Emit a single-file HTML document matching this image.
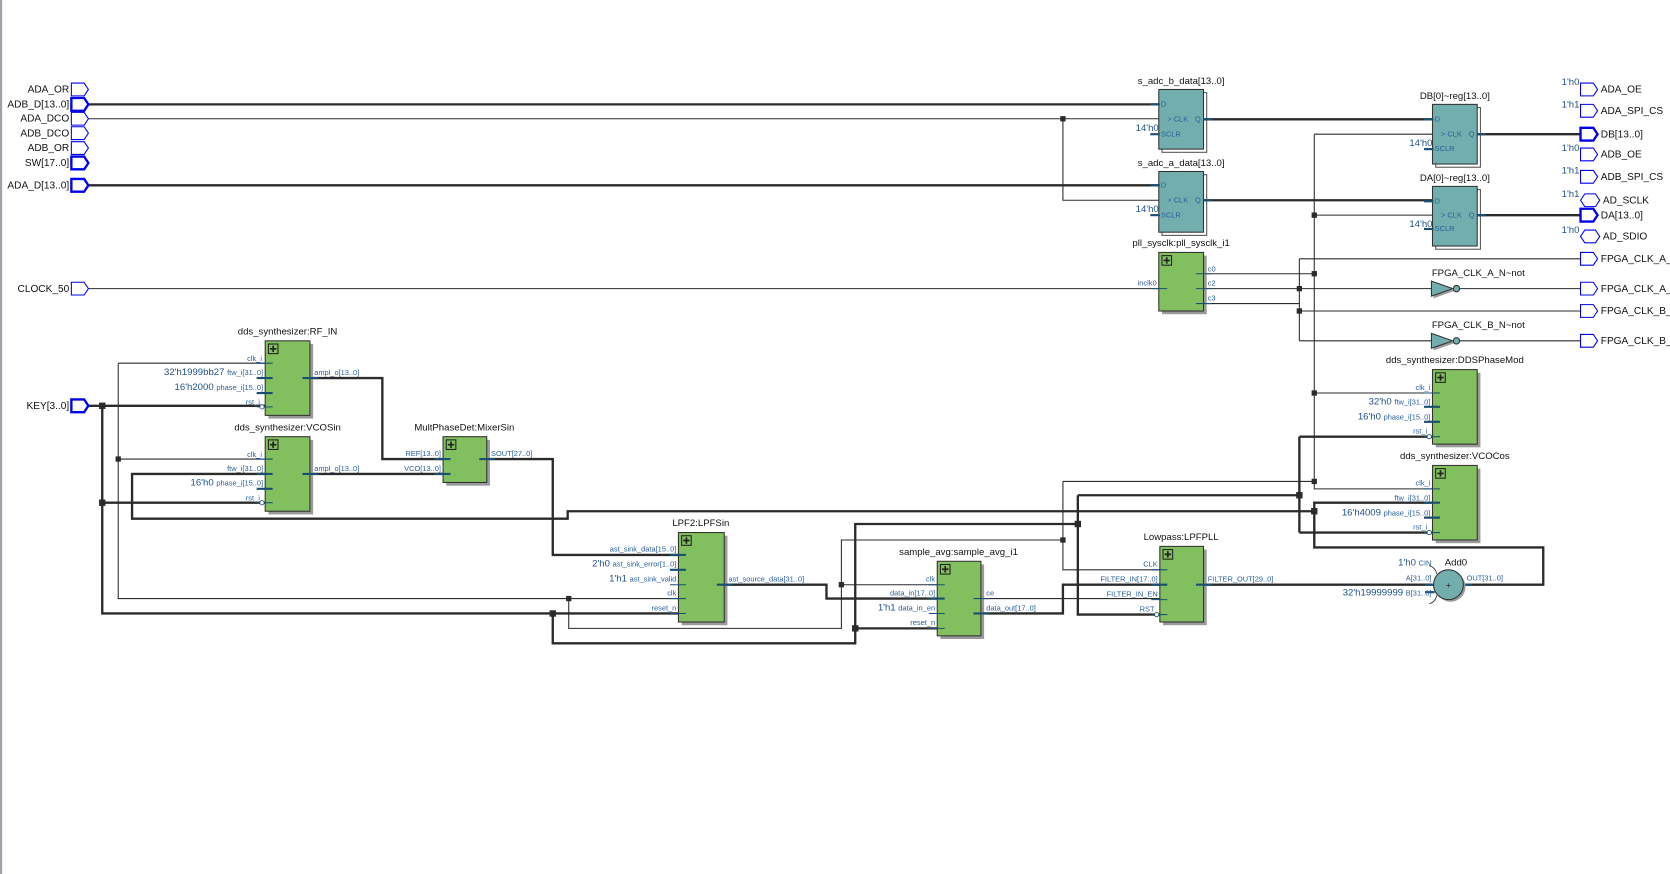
<!DOCTYPE html>
<html><head><meta charset="utf-8"><style>
html,body{margin:0;padding:0;background:#fff;}
svg{display:block;}
text{font-family:"Liberation Sans",sans-serif;}
.il{font-size:9px;fill:#111;text-anchor:middle;}
.pl{font-size:7px;fill:#2a5f9e;}
.cn{font-size:9px;fill:#1f4f8a;}
.po{font-size:9.5px;fill:#111;}
.th{stroke:#2b2b2b;stroke-width:2.2;fill:none;}
.tn{stroke:#2b2b2b;stroke-width:1;fill:none;}
.stub{stroke:#1b4f72;stroke-width:2;}
.stubt{stroke:#1b4f72;stroke-width:1;}
.prt{fill:#fff;stroke:#0000ee;stroke-width:1;}
.prtb{fill:#fff;stroke:#0000ee;stroke-width:2.2;}
.g{fill:#82bf5e;stroke:#333;stroke-width:1;}
.t{fill:#72aead;stroke:#333;stroke-width:1;}
.sh{fill:#9a9a9a;}
.j{fill:#2b2b2b;}
</style></head><body>
<svg width="1670" height="874" viewBox="0 0 1568 820.6" xmlns="http://www.w3.org/2000/svg">
<rect x="0" y="0" width="1568" height="821" fill="#fff"/>
<line x1="1" y1="0" x2="1" y2="821" stroke="#a0a0a8" stroke-width="2"/>

<!-- ===== wires thin ===== -->
<path class="tn" d="M83 111.5 H1088 M998 111.5 V188 H1088"/>
<path class="tn" d="M83 271 H1088"/>
<path class="tn" d="M1130 257 H1234 M1130 271 H1344 M1370 271 H1484 M1130 285 H1220"/>
<path class="tn" d="M1220 243 V320 M1220 243 H1484 M1220 292 H1484 M1220 320 H1344 M1370 320 H1484"/>
<path class="tn" d="M1234 126 V459 H1345 M1234 126 H1345 M1234 202 H1345 M1234 369 H1345 M998 452 H1234"/>
<path class="tn" d="M998 452 V535 H1089"/>
<path class="tn" d="M998 507 H790 V590 H534 V562"/>
<path class="tn" d="M790 549 H880"/>
<path class="tn" d="M111 341 H249 M111 341 V562 H637 M111 431 H249"/>
<path class="tn" d="M921 562 H1089"/>

<!-- ===== wires thick ===== -->
<path class="th" d="M83 98 H1088 M83 174 H1088"/>
<path class="th" d="M1130 112 H1345 M1130 188 H1345"/>
<path class="th" d="M1387 126 H1484 M1387 202 H1484"/>
<path class="th" d="M83 381 H249 M96 381 V576 H637 M96 472 H249"/>
<path class="th" d="M291 355 H359 V431 H416"/>
<path class="th" d="M291 445 H416"/>
<path class="th" d="M457 431 H519 V521 H637"/>
<path class="th" d="M249 445 H124 V487 H533 V480 H1234"/>
<path class="th" d="M1374 549 H1449 V514 H1234 V472 H1345"/>
<path class="th" d="M519 576 V604 H803 V492 H1012 M1012 465 V577 H1089 M1012 465 H1220 M1220 410 V500 M1220 410 H1345 M1220 500 H1345 M803 590 H880"/>
<path class="th" d="M680 549 H776 V562 H880"/>
<path class="th" d="M921 576 H998 V549 H1089"/>
<path class="th" d="M1130 549 H1346"/>

<!-- junctions -->
<g class="j">
<rect x="995.5" y="109" width="5" height="5"/>
<rect x="1231.5" y="199.5" width="5" height="5"/>
<rect x="1231.5" y="254.5" width="5" height="5"/>
<rect x="1217.5" y="268.5" width="5" height="5"/>
<rect x="1217.5" y="289.5" width="5" height="5"/>
<rect x="1231.5" y="366.5" width="5" height="5"/>
<rect x="1231.5" y="449.5" width="5" height="5"/>
<rect x="1231" y="477" width="6" height="6"/>
<rect x="1217" y="462" width="6" height="6"/>
<rect x="93" y="378" width="6" height="6"/>
<rect x="93" y="469" width="6" height="6"/>
<rect x="108.5" y="428.5" width="5" height="5"/>
<rect x="516" y="573" width="6" height="6"/>
<rect x="531.5" y="559.5" width="5" height="5"/>
<rect x="787.5" y="546.5" width="5" height="5"/>
<rect x="800" y="587" width="6" height="6"/>
<rect x="1009" y="489" width="6" height="6"/>
<rect x="995.5" y="504.5" width="5" height="5"/>
</g>

<!-- ===== left ports ===== -->
<g>
<polygon class="prt" points="67,78 79,78 83,84 79,90 67,90"/>
<polygon class="prtb" points="67,92 79,92 83,98 79,104 67,104"/>
<polygon class="prt" points="67,105.5 79,105.5 83,111.5 79,117.5 67,117.5"/>
<polygon class="prt" points="67,119 79,119 83,125 79,131 67,131"/>
<polygon class="prt" points="67,133 79,133 83,139 79,145 67,145"/>
<polygon class="prtb" points="67,147 79,147 83,153 79,159 67,159"/>
<polygon class="prtb" points="67,168 79,168 83,174 79,180 67,180"/>
<polygon class="prt" points="67,265 79,265 83,271 79,277 67,277"/>
<polygon class="prtb" points="67,375 79,375 83,381 79,387 67,387"/>
</g>
<g class="po" text-anchor="end">
<text x="65" y="87">ADA_OR</text>
<text x="65" y="101">ADB_D[13..0]</text>
<text x="65" y="114">ADA_DCO</text>
<text x="65" y="128">ADB_DCO</text>
<text x="65" y="142">ADB_OR</text>
<text x="65" y="156">SW[17..0]</text>
<text x="65" y="177">ADA_D[13..0]</text>
<text x="65" y="274">CLOCK_50</text>
<text x="65" y="384">KEY[3..0]</text>
</g>

<!-- ===== right ports ===== -->
<g>
<polygon class="prt" points="1484,78 1496,78 1500,84 1496,90 1484,90"/>
<polygon class="prt" points="1484,98 1496,98 1500,104 1496,110 1484,110"/>
<polygon class="prtb" points="1484,120 1496,120 1500,126 1496,132 1484,132"/>
<polygon class="prt" points="1484,139 1496,139 1500,145 1496,151 1484,151"/>
<polygon class="prt" points="1484,160 1496,160 1500,166 1496,172 1484,172"/>
<polygon class="prt" points="1484,188 1488,182 1498,182 1502,188 1498,194 1488,194"/>
<polygon class="prtb" points="1484,196 1496,196 1500,202 1496,208 1484,208"/>
<polygon class="prt" points="1484,222 1488,216 1498,216 1502,222 1498,228 1488,228"/>
<polygon class="prt" points="1484,237 1496,237 1500,243 1496,249 1484,249"/>
<polygon class="prt" points="1484,265 1496,265 1500,271 1496,277 1484,277"/>
<polygon class="prt" points="1484,286 1496,286 1500,292 1496,298 1484,298"/>
<polygon class="prt" points="1484,314 1496,314 1500,320 1496,326 1484,326"/>
</g>
<g class="po">
<text x="1503" y="87">ADA_OE</text>
<text x="1503" y="107">ADA_SPI_CS</text>
<text x="1503" y="129">DB[13..0]</text>
<text x="1503" y="148">ADB_OE</text>
<text x="1503" y="169">ADB_SPI_CS</text>
<text x="1505" y="191">AD_SCLK</text>
<text x="1503" y="205">DA[13..0]</text>
<text x="1505" y="225">AD_SDIO</text>
<text x="1503" y="246">FPGA_CLK_A_P</text>
<text x="1503" y="274">FPGA_CLK_A_N</text>
<text x="1503" y="295">FPGA_CLK_B_P</text>
<text x="1503" y="323">FPGA_CLK_B_N</text>
</g>
<g class="cn" text-anchor="end">
<text x="1483" y="80">1'h0</text>
<text x="1483" y="101">1'h1</text>
<text x="1483" y="142">1'h0</text>
<text x="1483" y="163">1'h1</text>
<text x="1483" y="185">1'h1</text>
<text x="1483" y="219">1'h0</text>
</g>

<!-- ===== registers ===== -->
<g>
<rect x="1091" y="87" width="42" height="56" fill="none" stroke="#555"/>
<rect class="t" x="1088" y="84" width="42" height="56"/>
<rect x="1091" y="164" width="42" height="57" fill="none" stroke="#555"/>
<rect class="t" x="1088" y="161" width="42" height="57"/>
<rect x="1348" y="101" width="42" height="56" fill="none" stroke="#555"/>
<rect class="t" x="1345" y="98" width="42" height="56"/>
<rect x="1348" y="178" width="42" height="56" fill="none" stroke="#555"/>
<rect class="t" x="1345" y="175" width="42" height="56"/>
</g>
<g class="stub">
<line x1="1080" y1="98" x2="1089" y2="98"/><line x1="1080" y1="126" x2="1089" y2="126"/><line x1="1130" y1="112" x2="1138" y2="112"/>
<line x1="1080" y1="174" x2="1089" y2="174"/><line x1="1080" y1="202" x2="1089" y2="202"/><line x1="1130" y1="188" x2="1138" y2="188"/>
<line x1="1337" y1="112" x2="1346" y2="112"/><line x1="1337" y1="140" x2="1346" y2="140"/><line x1="1387" y1="126" x2="1395" y2="126"/>
<line x1="1337" y1="189" x2="1346" y2="189"/><line x1="1337" y1="215" x2="1346" y2="215"/><line x1="1387" y1="202" x2="1395" y2="202"/>
</g>
<g class="pl" font-size="7.5">
<text x="1090" y="100">D</text><text x="1096" y="114">&gt; CLK</text><text x="1090" y="128">SCLR</text><text x="1122" y="114">Q</text>
<text x="1090" y="176">D</text><text x="1096" y="190">&gt; CLK</text><text x="1090" y="204">SCLR</text><text x="1122" y="190">Q</text>
<text x="1347" y="114">D</text><text x="1353" y="128">&gt; CLK</text><text x="1347" y="142">SCLR</text><text x="1379" y="128">Q</text>
<text x="1347" y="191">D</text><text x="1353" y="204">&gt; CLK</text><text x="1347" y="217">SCLR</text><text x="1379" y="204">Q</text>
</g>
<g class="cn" text-anchor="end">
<text x="1088" y="123">14'h0</text><text x="1088" y="199">14'h0</text>
<text x="1345" y="137">14'h0</text><text x="1345" y="213">14'h0</text>
</g>
<g class="il">
<text x="1109" y="79">s_adc_b_data[13..0]</text>
<text x="1109" y="156">s_adc_a_data[13..0]</text>
<text x="1366" y="93">DB[0]~reg[13..0]</text>
<text x="1366" y="170">DA[0]~reg[13..0]</text>
<text x="1388" y="259">FPGA_CLK_A_N~not</text>
<text x="1388" y="308">FPGA_CLK_B_N~not</text>
</g>

<!-- inverters -->
<g>
<polygon class="sh" points="1346,266 1346,280 1366,273"/>
<polygon class="t" points="1344,264 1344,278 1364,271"/>
<circle cx="1367.5" cy="271" r="3" class="t"/>
<polygon class="sh" points="1346,315 1346,329 1366,322"/>
<polygon class="t" points="1344,313 1344,327 1364,320"/>
<circle cx="1367.5" cy="320" r="3" class="t"/>
</g>

<!-- ===== green blocks ===== -->
<g>
<rect class="sh" x="252" y="323" width="42" height="70"/><rect class="g" x="249" y="320" width="42" height="70"/>
<rect class="sh" x="252" y="413" width="42" height="70"/><rect class="g" x="249" y="410" width="42" height="70"/>
<rect class="sh" x="419" y="413" width="41" height="43"/><rect class="g" x="416" y="410" width="41" height="43"/>
<rect class="sh" x="640" y="503" width="43" height="84"/><rect class="g" x="637" y="500" width="43" height="84"/>
<rect class="sh" x="883" y="530" width="41" height="70"/><rect class="g" x="880" y="527" width="41" height="70"/>
<rect class="sh" x="1092" y="516" width="41" height="71"/><rect class="g" x="1089" y="513" width="41" height="71"/>
<rect class="sh" x="1091" y="240" width="42" height="55"/><rect class="g" x="1088" y="237" width="42" height="55"/>
<rect class="sh" x="1348" y="350" width="42" height="70"/><rect class="g" x="1345" y="347" width="42" height="70"/>
<rect class="sh" x="1348" y="440" width="42" height="70"/><rect class="g" x="1345" y="437" width="42" height="70"/>
</g>
<!-- plus icons -->
<g fill="none" stroke="#222" stroke-width="1">
<rect x="252" y="323" width="9" height="9"/><path d="M256.5 324.5 V330.5 M253.5 327.5 H259.5" stroke-width="1.6"/>
<rect x="252" y="413" width="9" height="9"/><path d="M256.5 414.5 V420.5 M253.5 417.5 H259.5" stroke-width="1.6"/>
<rect x="419" y="413" width="9" height="9"/><path d="M423.5 414.5 V420.5 M420.5 417.5 H426.5" stroke-width="1.6"/>
<rect x="640" y="503" width="9" height="9"/><path d="M644.5 504.5 V510.5 M641.5 507.5 H647.5" stroke-width="1.6"/>
<rect x="883" y="530" width="9" height="9"/><path d="M887.5 531.5 V537.5 M884.5 534.5 H890.5" stroke-width="1.6"/>
<rect x="1092" y="516" width="9" height="9"/><path d="M1096.5 517.5 V523.5 M1093.5 520.5 H1099.5" stroke-width="1.6"/>
<rect x="1091" y="240" width="9" height="9"/><path d="M1095.5 241.5 V247.5 M1092.5 244.5 H1098.5" stroke-width="1.6"/>
<rect x="1348" y="350" width="9" height="9"/><path d="M1352.5 351.5 V357.5 M1349.5 354.5 H1355.5" stroke-width="1.6"/>
<rect x="1348" y="440" width="9" height="9"/><path d="M1352.5 441.5 V447.5 M1349.5 444.5 H1355.5" stroke-width="1.6"/>
</g>
<!-- stubs -->
<g class="stubt">
<line x1="241" y1="341" x2="256" y2="341"/><line x1="241" y1="382" x2="256" y2="382"/>
<line x1="241" y1="431" x2="256" y2="431"/><line x1="241" y1="472" x2="256" y2="472"/>
<line x1="629" y1="549" x2="644" y2="549"/><line x1="629" y1="562" x2="644" y2="562"/><line x1="629" y1="576" x2="644" y2="576"/>
<line x1="872" y1="549" x2="887" y2="549"/><line x1="872" y1="576" x2="887" y2="576"/><line x1="872" y1="590" x2="887" y2="590"/><line x1="914" y1="562" x2="929" y2="562"/>
<line x1="1081" y1="535" x2="1096" y2="535"/><line x1="1081" y1="563" x2="1096" y2="563"/><line x1="1081" y1="577" x2="1096" y2="577"/>
<line x1="1081" y1="271" x2="1096" y2="271"/><line x1="1123" y1="257" x2="1138" y2="257"/><line x1="1123" y1="271" x2="1138" y2="271"/><line x1="1123" y1="285" x2="1138" y2="285"/>
<line x1="1337" y1="369" x2="1352" y2="369"/><line x1="1337" y1="410" x2="1352" y2="410"/>
<line x1="1337" y1="459" x2="1352" y2="459"/><line x1="1337" y1="500" x2="1352" y2="500"/>
</g>
<g class="stub">
<line x1="241" y1="355" x2="256" y2="355"/><line x1="241" y1="369" x2="256" y2="369"/><line x1="284" y1="355" x2="299" y2="355"/>
<line x1="241" y1="445" x2="256" y2="445"/><line x1="241" y1="459" x2="256" y2="459"/><line x1="284" y1="445" x2="299" y2="445"/>
<line x1="408" y1="431" x2="423" y2="431"/><line x1="408" y1="445" x2="423" y2="445"/><line x1="450" y1="431" x2="465" y2="431"/>
<line x1="629" y1="521" x2="644" y2="521"/><line x1="629" y1="535" x2="644" y2="535"/><line x1="673" y1="549" x2="688" y2="549"/>
<line x1="872" y1="562" x2="887" y2="562"/><line x1="914" y1="576" x2="929" y2="576"/>
<line x1="1081" y1="549" x2="1096" y2="549"/><line x1="1123" y1="549" x2="1138" y2="549"/>
<line x1="1337" y1="382" x2="1352" y2="382"/><line x1="1337" y1="396" x2="1352" y2="396"/>
<line x1="1337" y1="472" x2="1352" y2="472"/><line x1="1337" y1="486" x2="1352" y2="486"/>
<line x1="1338" y1="549" x2="1347" y2="549"/><line x1="1338" y1="556" x2="1347" y2="556"/><line x1="1374" y1="549" x2="1382" y2="549"/>
</g>
<!-- inversion bubbles -->
<g fill="#fff" stroke="#1b4f72" stroke-width="0.8">
<circle cx="246" cy="382" r="2"/><circle cx="246" cy="472" r="2"/>
<circle cx="1086" cy="577" r="2"/><circle cx="1342" cy="410" r="2"/><circle cx="1342" cy="500" r="2"/>
</g>

<!-- Add0 -->
<circle cx="1362" cy="551" r="14" fill="#9a9a9a"/>
<circle cx="1360" cy="549" r="14" class="t"/>
<text x="1360" y="552" font-size="8" text-anchor="middle" fill="#222">+</text>
<path d="M1342 531 Q1348 533 1349 539 M1342 567 Q1348 565 1349 559" stroke="#333" fill="none" stroke-width="0.8"/>

<!-- instance labels -->
<g class="il">
<text x="270" y="314">dds_synthesizer:RF_IN</text>
<text x="270" y="404">dds_synthesizer:VCOSin</text>
<text x="436" y="404">MultPhaseDet:MixerSin</text>
<text x="658" y="494">LPF2:LPFSin</text>
<text x="900" y="521">sample_avg:sample_avg_i1</text>
<text x="1109" y="507">Lowpass:LPFPLL</text>
<text x="1109" y="231">pll_sysclk:pll_sysclk_i1</text>
<text x="1366" y="341">dds_synthesizer:DDSPhaseMod</text>
<text x="1366" y="431">dds_synthesizer:VCOCos</text>
<text x="1367" y="531">Add0</text>
</g>

<!-- pin labels -->
<g class="pl" text-anchor="end">
<text x="246" y="339">clk_i</text>
<text x="247" y="352"><tspan class="cn">32'h1999bb27 </tspan>ftw_i[31..0]</text>
<text x="247" y="366"><tspan class="cn">16'h2000 </tspan>phase_i[15..0]</text>
<text x="244" y="380">rst_i</text>
<text x="246" y="429">clk_i</text>
<text x="247" y="442">ftw_i[31..0]</text>
<text x="247" y="456"><tspan class="cn">16'h0 </tspan>phase_i[15..0]</text>
<text x="244" y="470">rst_i</text>
<text x="414" y="428">REF[13..0]</text>
<text x="414" y="442">VCO[13..0]</text>
<text x="635" y="518">ast_sink_data[15..0]</text>
<text x="635" y="532"><tspan class="cn">2'h0 </tspan>ast_sink_error[1..0]</text>
<text x="635" y="546"><tspan class="cn">1'h1 </tspan>ast_sink_valid</text>
<text x="635" y="559">clk</text>
<text x="635" y="573">reset_n</text>
<text x="878" y="546">clk</text>
<text x="878" y="559">data_in[17..0]</text>
<text x="878" y="573"><tspan class="cn">1'h1 </tspan>data_in_en</text>
<text x="878" y="587">reset_n</text>
<text x="1087" y="532">CLK</text>
<text x="1087" y="546">FILTER_IN[17..0]</text>
<text x="1087" y="560">FILTER_IN_EN</text>
<text x="1084" y="574">RST</text>
<text x="1086" y="268">inclk0</text>
<text x="1343" y="366">clk_i</text>
<text x="1343" y="380"><tspan class="cn">32'h0 </tspan>ftw_i[31..0]</text>
<text x="1343" y="394"><tspan class="cn">16'h0 </tspan>phase_i[15..0]</text>
<text x="1340" y="407">rst_i</text>
<text x="1343" y="456">clk_i</text>
<text x="1343" y="470">ftw_i[31..0]</text>
<text x="1343" y="484"><tspan class="cn">16'h4009 </tspan>phase_i[15..0]</text>
<text x="1340" y="497">rst_i</text>
<text x="1344" y="531"><tspan class="cn">1'h0 </tspan>CIN</text>
<text x="1344" y="545">A[31..0]</text>
<text x="1344" y="559"><tspan class="cn">32'h19999999 </tspan>B[31..0]</text>
</g>
<g class="pl">
<text x="295" y="352">ampl_o[13..0]</text>
<text x="295" y="442">ampl_o[13..0]</text>
<text x="461" y="428">SOUT[27..0]</text>
<text x="684" y="546">ast_source_data[31..0]</text>
<text x="926" y="559">ce</text>
<text x="926" y="573">data_out[17..0]</text>
<text x="1134" y="546">FILTER_OUT[29..0]</text>
<text x="1134" y="255">c0</text>
<text x="1134" y="268">c2</text>
<text x="1134" y="282">c3</text>
<text x="1377" y="545">OUT[31..0]</text>
</g>
</svg>
</body></html>
